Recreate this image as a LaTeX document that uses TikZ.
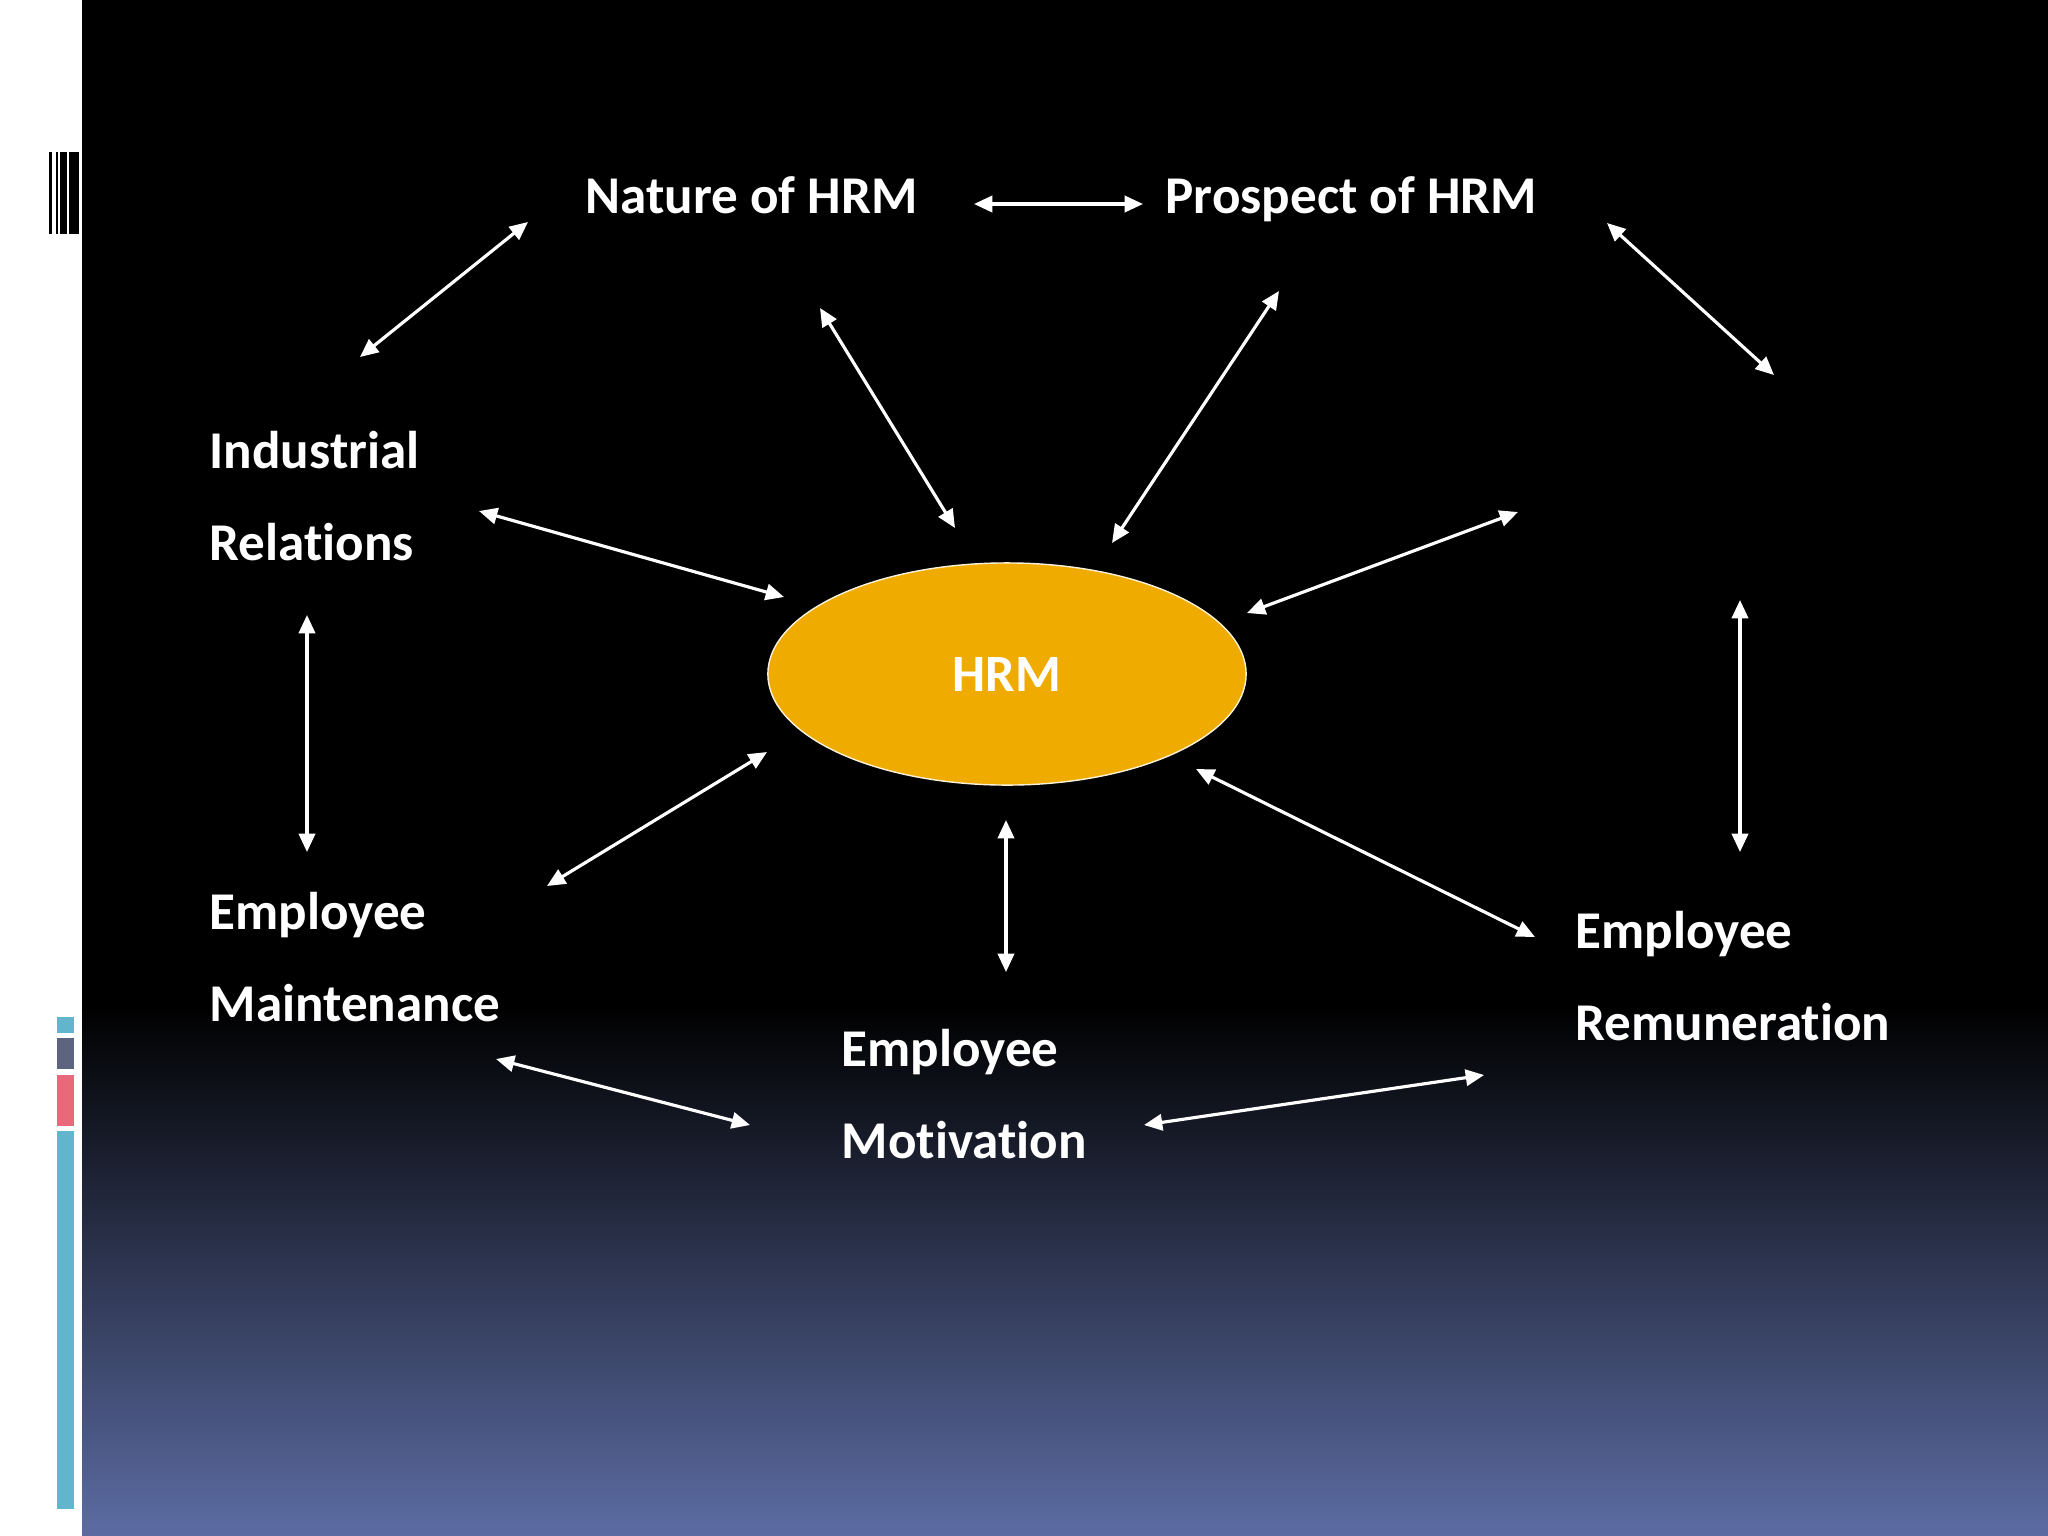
\documentclass[tikz,border=0pt]{standalone}
\usepackage{fontspec}
\setmainfont{Carlito}[Ligatures={NoCommon}]
\usetikzlibrary{arrows.meta,shapes.geometric}
\definecolor{hrmgold}{RGB}{240,171,0}
\definecolor{bgblue}{RGB}{92,108,163}
\definecolor{barcyan}{RGB}{98,181,203}
\definecolor{barslate}{RGB}{94,100,128}
\definecolor{barpink}{RGB}{232,105,122}
\tikzset{
  lbl/.style={text=white,font=\fontsize{15.1pt}{25.9pt}\selectfont\bfseries,align=left,inner sep=0pt,anchor=base west},
  link/.style={draw=white,line width=0.9pt,{Triangle[length=5.2pt,width=4.6pt]}-{Triangle[length=5.2pt,width=4.6pt]}},
}
\begin{document}
\begin{tikzpicture}[x=0.01cm,y=-0.01cm]
\useasboundingbox (0,0) rectangle (2048,1536);
% background
\fill[white] (0,0) rectangle (82,1536);
\fill[black] (82,0) rectangle (2048,1006);
\shade[top color=black,bottom color=bgblue] (82,1005) rectangle (2048,1536);
% barcode
\fill[black] (49,152) rectangle (52,234);
\fill[black] (56,152) rectangle (58,234);
\fill[black] (60,152) rectangle (67,234);
\fill[black] (69,152) rectangle (79,234);
% side bars
\fill[barcyan] (57,1017) rectangle (74,1033);
\fill[barslate] (57,1038) rectangle (74,1069);
\fill[barpink] (57,1075) rectangle (74,1126);
\fill[barcyan] (57,1131) rectangle (74,1509);
% central ellipse
\node[ellipse,fill=hrmgold,draw=white!85!hrmgold,line width=0.4pt,minimum width=4.78cm,minimum height=2.22cm,inner sep=0pt,text=white,font=\fontsize{14.9pt}{16pt}\selectfont\bfseries] (hrm) at (1007,674) {HRM};
% labels (base = baseline of last line)
\node[lbl] (nat) at (585,213) {Nature of HRM};
\node[lbl] (pro) at (1165,213) {Prospect of HRM};
\node[lbl] (ind) at (209,560) {Industrial\\Relations};
\node[lbl] (mai) at (209,1021) {Employee\\Maintenance};
\node[lbl] (mot) at (841,1158) {Employee\\Motivation};
\node[lbl] (rem) at (1575,1040) {Employee\\Remuneration};
% connector end points
\coordinate (a1) at (974,204);  \coordinate (b1) at (1143,204);
\coordinate (a2) at (360,357);  \coordinate (b2) at (528,222);
\coordinate (a3) at (1607,223); \coordinate (b3) at (1774,375);
\coordinate (a4) at (820,308);  \coordinate (b4) at (955,528);
\coordinate (a5) at (1279,291); \coordinate (b5) at (1112,543);
\coordinate (a6) at (479,511);  \coordinate (b6) at (784,597);
\coordinate (a7) at (1518,512); \coordinate (b7) at (1247,613);
\coordinate (a8) at (307,615);  \coordinate (b8) at (307,852);
\coordinate (a9) at (1740,600); \coordinate (b9) at (1740,852);
\coordinate (a10) at (547,886); \coordinate (b10) at (767,752);
\coordinate (a11) at (1006,820); \coordinate (b11) at (1006,972);
\coordinate (a12) at (1196,769); \coordinate (b12) at (1535,937);
\coordinate (a13) at (496,1059); \coordinate (b13) at (750,1125);
\coordinate (a14) at (1144,1125); \coordinate (b14) at (1484,1075);
\foreach \i in {1,...,14} {\draw[link] (a\i) -- (b\i);}
\end{tikzpicture}
\end{document}
